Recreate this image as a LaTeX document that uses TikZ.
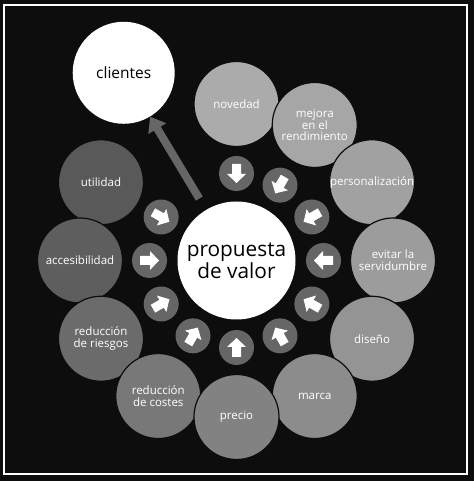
\documentclass[tikz,border=0pt]{standalone}
\usepackage{fontspec}
\setmainfont{Open Sans}
\usetikzlibrary{arrows.meta}

\definecolor{fondo}{gray}{0.05}
\definecolor{gris}{gray}{0.40}
\definecolor{gnovedad}{gray}{0.67}
\definecolor{gmejora}{gray}{0.65}
\definecolor{gperso}{gray}{0.63}
\definecolor{gevitar}{gray}{0.61}
\definecolor{gdiseno}{gray}{0.58}
\definecolor{gmarca}{gray}{0.55}
\definecolor{gprecio}{gray}{0.51}
\definecolor{gcostes}{gray}{0.47}
\definecolor{griesgos}{gray}{0.42}
\definecolor{gacceso}{gray}{0.37}
\definecolor{gutil}{gray}{0.35}

\begin{document}
\begin{tikzpicture}[x=1pt,y=1pt,
        centro/.style={circle,fill=white,minimum size=118pt,inner sep=0pt,align=center,
            font=\fontsize{20.8}{21.7}\selectfont},
        beneficio/.style={circle,draw=fondo,line width=1.2pt,minimum size=85pt,inner sep=0pt,
            text=white,align=center,font=\fontsize{11.5}{11.7}\selectfont},
        ficha/.style={circle,fill=gris,minimum size=35pt,inner sep=0pt},
        flechota/.style={gris,line width=8pt,-{Triangle[width=20pt,length=14pt]}}]
        \fill[fondo] (0,0) rectangle (474,481);
        \draw[white,line width=1.5pt] (4,7) rectangle (467,476);
        \begin{scope}[shift={(236.5,220.5)}]
            % anillo exterior
            \node[beneficio,fill=gnovedad] (novedad) at (90:156.5) {novedad};
            \node[beneficio,fill=gmejora] (mejora) at (60:156.5) {mejora\\en el\\rendimiento};
            \node[beneficio,fill=gperso] (perso) at (30:156.5) {personalización};
            \node[beneficio,fill=gevitar] (evitar) at (0:156.5) {evitar la\\servidumbre};
            \node[beneficio,fill=gdiseno] (diseno) at (-30:156.5) {diseño};
            \node[beneficio,fill=gmarca] (marca) at (-60:156.5) {marca};
            \node[beneficio,fill=gutil] (utilidad) at (150:156.5) {utilidad};
            \node[beneficio,fill=gacceso] (acceso) at (180:156.5) {accesibilidad};
            \node[beneficio,fill=griesgos] (riesgos) at (-150:156.5) {reducción\\de riesgos};
            \node[beneficio,fill=gcostes] (costes) at (-120:156.5) {reducción\\de costes};
            \node[beneficio,fill=gprecio] (precio) at (-90:156.5) {precio};
            % centro y clientes
            \node[centro] (valor) at (0,0) {propuesta\\de valor};
            \node[circle,fill=white,minimum size=102pt,inner sep=0pt,
                font=\fontsize{15.5}{17}\selectfont] (clientes) at (121:219) {clientes};
            \draw[flechota,shorten <=13pt] (valor) -- (clientes);
            % flechas hacia el centro
            \foreach \a in {90,60,30,0,-30,-60,-90,-120,-150,180,150} {
                \node[ficha] (f\a) at (\a:87) {};
                \fill[white,shift={(f\a.center)},rotate=\a+180]
                    (-9.5,-4.5) -- (0.5,-4.5) -- (0.5,-9.5) -- (9.5,0)
                    -- (0.5,9.5) -- (0.5,4.5) -- (-9.5,4.5) -- cycle;
            }
        \end{scope}
    \end{tikzpicture}
\end{document}
